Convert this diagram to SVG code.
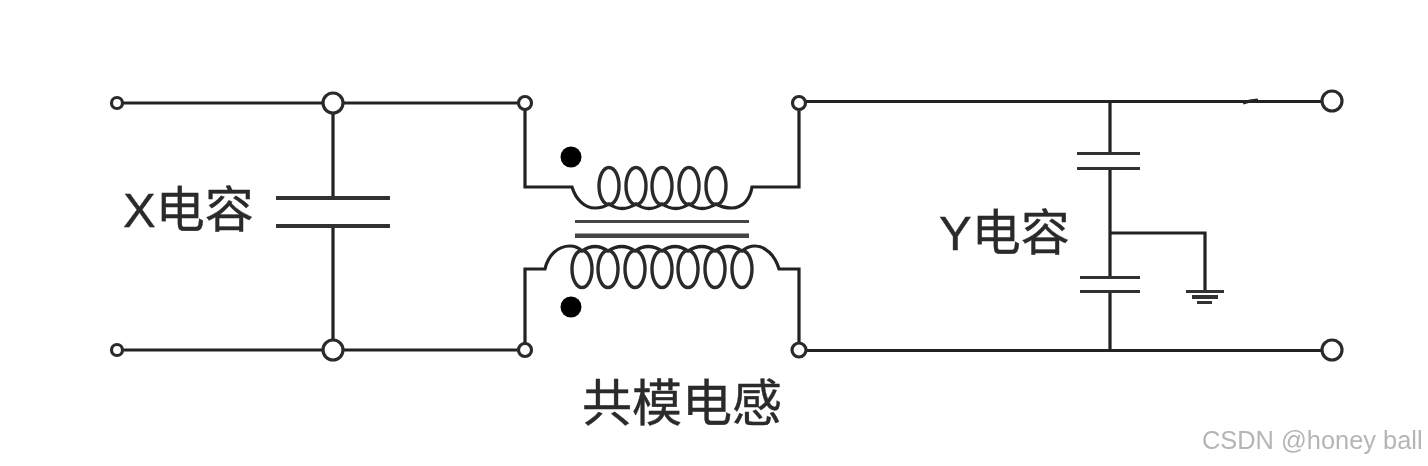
<svg xmlns="http://www.w3.org/2000/svg" width="1428" height="466" viewBox="0 0 1428 466">
<defs>
<filter id="soft" x="-5%" y="-5%" width="110%" height="110%"><feGaussianBlur stdDeviation="0.6"/></filter>
</defs>
<style>
.w{fill:none;stroke:#222;stroke-width:3.2}
.p{fill:none;stroke:#333;stroke-width:3.8}
.c{fill:#fff;stroke:#2a2a2a;stroke-width:3.2}
.e{fill:none;stroke:#2a2a2a;stroke-width:3.4}
.t{font-family:"Liberation Sans","Noto Sans CJK SC",sans-serif;fill:#2a2a2a;stroke:#2a2a2a;stroke-width:.4}
</style>
<rect width="1428" height="466" fill="#fff"/>
<g id="connectors" filter="url(#soft)">
<path class="w" d="M122 103H323M343 103H518M122 350H323M343 350H518"/>
<path class="w" d="M333 113V198M333 226V340"/>
<path class="w" d="M525 110V187H572C576 200 585 208 595 208Q603 208 609 204Q622 213 636 204Q649 213 662 204Q676 213 689 204Q702 213 716 204Q723 208 732 208C742 208 750 200 752 187H799V110"/>
<path class="w" d="M525 343V269H545C548 255 558 246 570 246Q577 246 582 251Q595 242 608 251Q622 242 635 251Q648 242 662 251Q675 242 688 251Q702 242 715 251Q728 242 742 251Q748 246 755 246C765 246 775 255 779 269H799V343"/>
<path class="w" d="M806 101.500H1322M806 350.500H1322"/>
<path class="w" d="M1243 103L1250 101L1258 100"/>
<path class="w" d="M1110 102V152M1110 169V277M1110 292V350M1110 233H1205V291"/>
</g>
<g id="x-capacitor" filter="url(#soft)">
<path class="p" d="M276 198H390M276 226H390"/>
</g>
<g id="y-capacitor-top" filter="url(#soft)">
<path class="p" d="M1077 153H1140M1077 169H1140"/>
</g>
<g id="y-capacitor-bottom" filter="url(#soft)">
<path class="p" d="M1080 277H1140M1080 292H1140"/>
</g>
<g id="ground" filter="url(#soft)">
<path class="p" d="M1186 291H1224M1192 297H1218M1197 303H1212"/>
</g>
<g id="choke-top-winding" filter="url(#soft)">
<ellipse class="e" cx="609" cy="186" rx="10" ry="18.500"/>
<ellipse class="e" cx="636" cy="186" rx="10" ry="18.500"/>
<ellipse class="e" cx="662" cy="186" rx="10" ry="18.500"/>
<ellipse class="e" cx="689" cy="186" rx="10" ry="18.500"/>
<ellipse class="e" cx="716" cy="186" rx="10" ry="18.500"/>
</g>
<g id="choke-bottom-winding" filter="url(#soft)">
<ellipse class="e" cx="582" cy="269" rx="10" ry="18.500"/>
<ellipse class="e" cx="608" cy="269" rx="10" ry="18.500"/>
<ellipse class="e" cx="635" cy="269" rx="10" ry="18.500"/>
<ellipse class="e" cx="662" cy="269" rx="10" ry="18.500"/>
<ellipse class="e" cx="688" cy="269" rx="10" ry="18.500"/>
<ellipse class="e" cx="715" cy="269" rx="10" ry="18.500"/>
<ellipse class="e" cx="742" cy="269" rx="10" ry="18.500"/>
</g>
<g id="choke-core" filter="url(#soft)">
<path fill="none" stroke="#444" stroke-width="4" d="M575 221H749"/>
<path fill="none" stroke="#444" stroke-width="6" d="M575 236.500H749"/>
</g>
<g id="dots">
<circle cx="571" cy="157" r="10.500" fill="#000"/>
<circle cx="571" cy="307" r="10.500" fill="#000"/>
</g>
<g id="terminals" filter="url(#soft)">
<circle class="c" cx="117" cy="103" r="5.500"/>
<circle class="c" cx="117" cy="350" r="5.500"/>
<circle class="c" cx="333" cy="103" r="10"/>
<circle class="c" cx="333" cy="350" r="10"/>
<circle class="c" cx="525" cy="103" r="6.500"/>
<circle class="c" cx="525" cy="350" r="6.500"/>
<circle class="c" cx="799" cy="103" r="6.500"/>
<circle class="c" cx="799" cy="350" r="7"/>
<circle class="c" cx="1332" cy="101" r="10"/>
<circle class="c" cx="1332" cy="350" r="10"/>
</g>
<g id="labels" filter="url(#soft)">
<text class="t" x="123" y="227" font-size="49">X电容</text>
<text class="t" x="939" y="250" font-size="49">Y电容</text>
<text class="t" x="582" y="421" font-size="50">共模电感</text>
<text x="1202" y="449" font-size="25.400" font-family="'Liberation Sans',Arial,sans-serif" fill="#b5b5b5">CSDN @honey ball</text>
</g>
</svg>
